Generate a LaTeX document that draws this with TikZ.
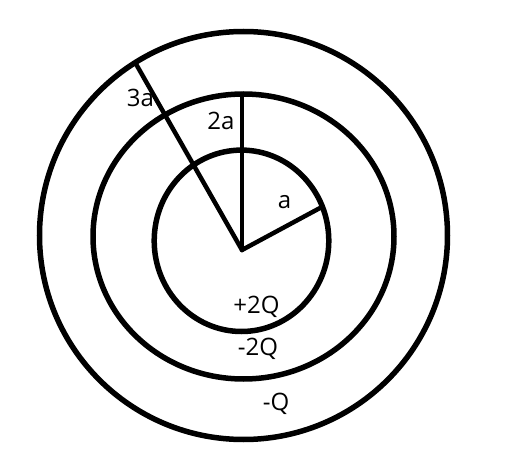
\documentclass[tikz,border=0pt]{standalone}
\usepackage{fontspec}
\setmainfont{Open Sans}
\usetikzlibrary{positioning}

\begin{document}
\begin{tikzpicture}[
    x=1pt, y=-1pt,
    shell/.style={draw, line width=5.5pt},
    radius line/.style={draw, line width=4.5pt, line cap=round, line join=round},
    lbl/.style={inner sep=0pt, anchor=base, font=\fontsize{24}{28}\selectfont}
    ]

    \useasboundingbox (0,0) rectangle (531,452);

    % the three spheres
    \path[shell] (241.5,240.8) ellipse [x radius=87.3, y radius=90.7];
    \path[shell] (243.5,236.5) ellipse [x radius=150.5, y radius=142.5];
    \path[shell] (243.5,235.5) ellipse [x radius=204, y radius=204];

    \coordinate (o) at (242,250);
    \coordinate (ra) at (320,208);
    \coordinate (rtwo) at (242,94);
    \coordinate (rthree) at (136,64);

    \path (o) edge[radius line] (ra)
    (o) edge[radius line] (rtwo)
    (o) edge[radius line] (rthree)
    ;

    \node[lbl] (la) at (284.5,208) {a};
    \node[lbl] (ltwo) at (221,130) {2a};
    \node[lbl] (lthree) at (140.5,107) {3a};

    \node[lbl] (qin) at (256.5,313) {+2Q};
    \node[lbl] (qmid) at (258,355) {-2Q};
    \node[lbl] (qout) at (276,410) {-Q};

\end{tikzpicture}
\end{document}
